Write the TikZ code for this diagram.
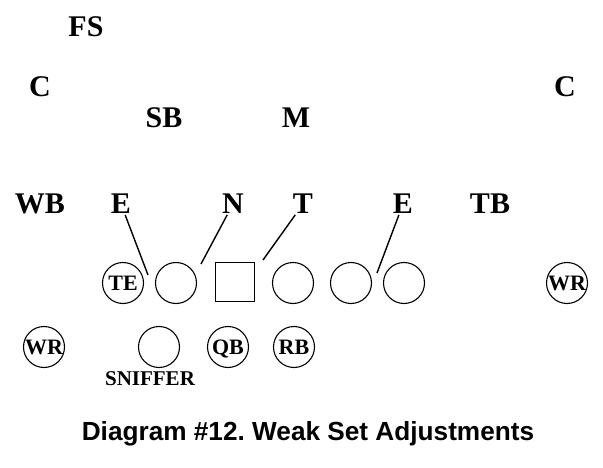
\documentclass[tikz,border=0pt]{standalone}
\usepackage{fontspec}
\setmainfont{Liberation Serif}
\newfontfamily\capfont{Liberation Sans}
\usetikzlibrary{positioning}
\frenchspacing

\tikzset{
    lbl/.style={inner sep=0pt, font=\fontsize{30}{30}\selectfont\bfseries},
    plyr/.style={circle, draw, line width=1.1pt, minimum size=41pt, inner sep=0pt,
        text depth=0pt, font=\fontsize{22}{22}\selectfont\bfseries},
    ctr/.style={rectangle, draw, line width=1.1pt, minimum size=39pt, inner sep=0pt},
    link/.style={line width=1.4pt, shorten <=1pt}
}

\begin{document}
\begin{tikzpicture}[x=1pt,y=-1pt]
        \useasboundingbox (0,0) rectangle (603,468);

        % Secondary
        \node[lbl] (fs) at (86,27) {FS};
        \node[lbl] (cl) at (40,87) {C};
        \node[lbl] (cr) at (565,87) {C};
        \node[lbl] (sb) at (164,118) {SB};
        \node[lbl] (m) at (296,118) {M};

        % Front
        \node[lbl] (wb) at (40,204) {WB};
        \node[lbl] (el) at (121,204) {E};
        \node[lbl] (n) at (233,204) {N};
        \node[lbl] (t) at (303,204) {T};
        \node[lbl] (er) at (403,204) {E};
        \node[lbl] (tb) at (490,204) {TB};

        % Offense - line
        \node[plyr] (te) at (123,283) {TE};
        \node[plyr] (lg) at (176,283) {};
        \node[ctr] (c) at (235,282) {};
        \node[plyr] (rg) at (293,283) {};
        \node[plyr] (rt) at (351,283) {};
        \node[plyr] (y) at (404,283) {};
        \node[plyr] (wrr) at (567,283) {WR};

        % Offense - backs
        \node[plyr] (wrl) at (44,347) {WR};
        \node[plyr] (sn) at (159,347) {};
        \node[plyr] (qb) at (228,347) {QB};
        \node[plyr] (rb) at (294,347) {RB};
        \node[inner sep=0pt, font=\fontsize{21}{21}\selectfont\bfseries] (snl) at (150,379) {SNIFFER};

        % Alignments
        \coordinate (g1) at (148,275);
        \coordinate (g2) at (201,264);
        \coordinate (g3) at (263,260);
        \coordinate (g4) at (377,273);
        \draw[link] (el) -- (g1);
        \draw[link] (n) -- (g2);
        \draw[link] (t) -- (g3);
        \draw[link] (er) -- (g4);

        % Caption
        \node[inner sep=0pt, font=\capfont\fontsize{26.2}{26.2}\selectfont\bfseries] (cap) at (308,434) {Diagram \#12. Weak Set Adjustments};

    \end{tikzpicture}
\end{document}
